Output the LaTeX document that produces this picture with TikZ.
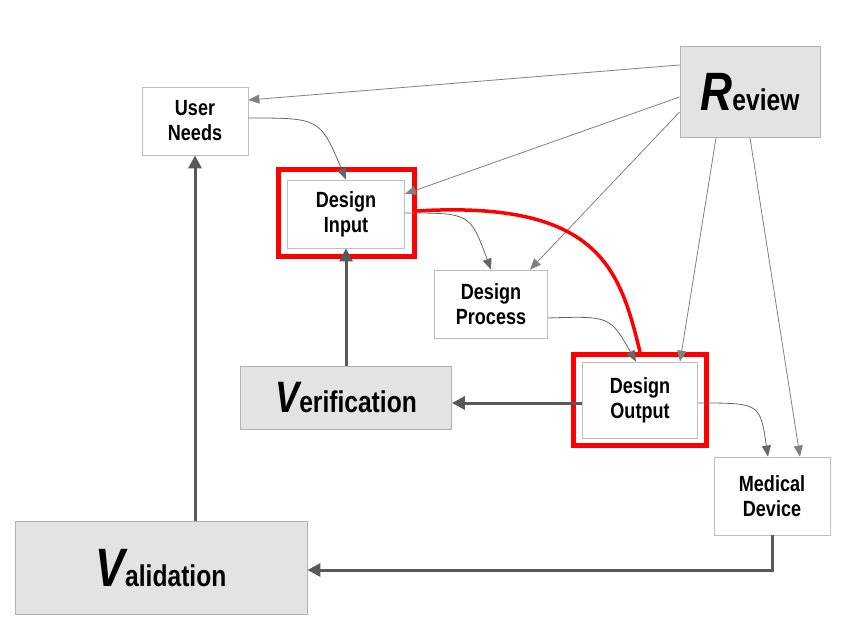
\documentclass[tikz,border=0pt]{standalone}
\usepackage{fontspec}
\setmainfont{Liberation Sans}[FakeStretch=0.82]
\usetikzlibrary{arrows.meta}
\begin{document}
\begin{tikzpicture}[x=1pt,y=-1pt,
 box/.style={draw=black!25,line width=0.8pt,fill=white,inner sep=0pt,font=\bfseries\fontsize{22}{25}\selectfont,align=center},
 gbox/.style={box,fill=black!11,draw=black!30},
 thin/.style={draw=black!50,line width=0.8pt,-{Triangle[length=11pt,width=9pt]}},
 thick/.style={draw=black!65,line width=3pt,-{Triangle[length=13pt,width=13pt]}},
 redbox/.style={draw=red,line width=5pt,fill=none}]
\useasboundingbox (0,0) rectangle (852,631);
\node[box,minimum width=106,minimum height=68] (un) at (195,121) {User\\Needs};
\node[gbox,minimum width=140,minimum height=91] (rv) at (750,92) {\fontsize{54}{54}\selectfont\itshape R\fontsize{30}{30}\selectfont\upshape eview};
\node[box,minimum width=117,minimum height=68] (di) at (346,214) {Design\\Input};
\node[redbox,minimum width=136,minimum height=87] (dir) at (346,213) {};
\node[box,minimum width=113,minimum height=68] (dp) at (491,304) {Design\\Process};
\node[box,minimum width=115,minimum height=76] (do) at (640,400) {Design\\Output};
\node[redbox,minimum width=133,minimum height=91] (dor) at (640,400) {};
\node[gbox,minimum width=211,minimum height=63] (vf) at (346,398) {\fontsize{44}{44}\selectfont\itshape V\fontsize{30}{30}\selectfont\upshape erification};
\node[box,minimum width=116,minimum height=78] (md) at (772,496) {Medical\\Device};
\node[gbox,minimum width=292,minimum height=93] (vl) at (161,568) {\fontsize{54}{54}\selectfont\itshape V\fontsize{30}{30}\selectfont\upshape alidation};
\coordinate (c1) at (772,570);
\draw[thin] (rv.west|-0,65) -- (un.east|-0,100);
\draw[thin] (rv.west|-0,97) -- (di.east|-0,194);
\draw[thin] (rv.west|-0,112) -- (dp.north-|530,0);
\draw[thin] (rv.south-|716,0) -- (do.north-|680,0);
\draw[thin] (rv.south-|750,0) -- (md.north-|800,0);
\draw[thin,draw=black!60] (un.east|-0,118) .. controls (320,118) .. (di.north);
\draw[thin,draw=black!60] (di.east|-0,213) .. controls (470,213) .. (dp.north);
\draw[thin,draw=black!60] (dp.east|-0,318) .. controls (610,316) .. (do.north-|636,0);
\draw[thin,draw=black!60] (do.east|-0,403) .. controls (760,403) .. (md.north-|768,0);
\draw[red,line width=3.5pt] (dir.east|-0,211) .. controls (600,200) and (620,270) .. (dor.north);
\draw[thick] (do.west|-0,403) -- (vf.east|-0,403);
\draw[thick] (vf.north) -- (di.south);
\draw[thick] (md.south) -- (c1) -- (vl.east|-c1);
\draw[thick] (vl.north-|un) -- (un.south);
\end{tikzpicture}
\end{document}
